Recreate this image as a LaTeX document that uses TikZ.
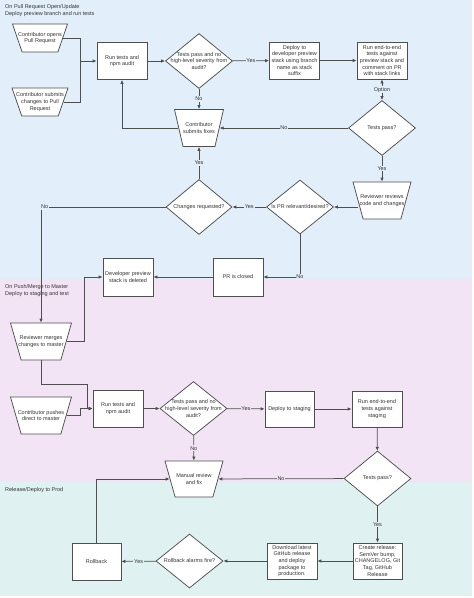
\documentclass[tikz,border=0pt]{standalone}
\usepackage{fontspec}
\setmainfont{Liberation Sans}
\usepackage{tikz}
\usetikzlibrary{arrows.meta, shapes.geometric}
\definecolor{bgblue}{HTML}{E2EFFA}
\definecolor{bgpink}{HTML}{F3E4F5}
\definecolor{bgteal}{HTML}{E0F1F1}
\definecolor{linegray}{HTML}{4F4F4F}
\definecolor{textgray}{HTML}{333333}
\newcommand{\flowfont}{\fontsize{5.5}{6.6}\selectfont}
\tikzstyle{process}=[rectangle, draw=linegray, fill=white, line width=0.75pt, inner sep=0pt, align=center, minimum width=50pt, minimum height=37pt]
\tikzstyle{decision}=[diamond, draw=linegray, fill=white, line width=0.75pt, inner sep=0pt, minimum width=67pt, minimum height=55pt]
\tikzstyle{manual}=[trapezium, trapezium angle=75, shape border rotate=180, trapezium stretches=true, draw=linegray, fill=white, line width=0.75pt, inner sep=1pt]
\tikzstyle{arrow}=[draw=linegray, line width=0.75pt, >={Latex[length=4pt, width=3.5pt]}]
\tikzstyle{labelblue}=[fill=bgblue, inner sep=0.8pt]
\tikzstyle{labelpink}=[fill=bgpink, inner sep=0.8pt]
\tikzstyle{labelteal}=[fill=bgteal, inner sep=0.8pt]
\tikzstyle{header}=[anchor=north west, align=left, inner sep=0pt, font=\fontsize{5.5}{7.3}\selectfont]

\begin{document}
\begin{tikzpicture}[x=1pt, y=-1pt, font=\flowfont, text=textgray, every label/.style={align=center}]
		   \useasboundingbox (0, 0) rectangle (474, 598);
		   \begin{scope}
			   \fill[bgblue] (0, 0) rectangle (472, 279);
			   \fill[bgpink] (0, 279) rectangle (472, 482);
			   \fill[bgteal] (0, 482) rectangle (472, 596);

			   \node (h1) at (5, 4.5)[header] {On Pull Request Open/Update\\Deploy preview branch and run tests};
			   \node (h2) at (5, 284.5)[header] {On Push/Merge to Master\\Deploy to staging and test};
			   \node (h3) at (5, 487)[header] {Release/Deploy to Prod};

			   \node (a1) at (40, 38)[manual, minimum width=55pt, minimum height=28pt, label=center:{Contributor opens\\Pull Request}] {};
			   \node (a2) at (40, 102)[manual, minimum width=56pt, minimum height=28pt, label=center:{Contributor submits\\changes to Pull\\Request}] {};
			   \node (a3) at (122, 61)[process] {Run tests and\\npm audit};
			   \node (a4) at (199, 61)[decision, label=center:{Tests pass and no\\high-level severity from\\audit?}] {};
			   \node (a5) at (294.5, 60.5)[process] {Deploy to\\developer preview\\stack using branch\\name as stack\\suffix};
			   \node (a6) at (382, 60.5)[process] {Run end-to-end\\tests against\\preview stack and\\comment on PR\\with stack links};
			   \node (a7) at (382, 128)[decision, label=center:{Tests pass?}] {};
			   \node (a8) at (199, 128)[manual, minimum width=49pt, minimum height=37pt, label=center:{Contributor\\submits fixes}] {};
			   \node (a9) at (382, 200.5)[manual, minimum width=58pt, minimum height=37pt, label=center:{Reviewer reviews\\code and changes}] {};
			   \node (a10) at (300, 207)[decision, minimum height=54pt, label=center:{Is PR relevant/desired?}] {};
			   \node (a11) at (199, 207)[decision, minimum width=66pt, label=center:{Changes requested?}] {};
			   \node (a12) at (238, 277)[process, minimum height=38pt] {PR is closed};
			   \node (a13) at (128, 277)[process, minimum height=38pt] {Developer preview\\stack is deleted};

			   \node (b1) at (41, 341.5)[manual, minimum width=61pt, minimum height=37pt, label=center:{Reviewer merges\\changes to master}] {};
			   \node (b2) at (41, 415.5)[manual, minimum width=61pt, minimum height=37pt, label=center:{Contributor pushes\\direct to master}] {};
			   \node (b3) at (118, 408.5)[process] {Run tests and\\npm audit};
			   \node (b4) at (193.5, 408.5)[decision, minimum height=54pt, label=center:{Tests pass and no\\high-level severity from\\audit?}] {};
			   \node (b5) at (289.5, 409)[process, minimum width=49pt, minimum height=36pt] {Deploy to staging};
			   \node (b6) at (377, 409)[process, minimum height=36pt] {Run end-to-end\\tests against\\staging};
			   \node (b7) at (377.5, 478.5)[decision, label=center:{Tests pass?}] {};
			   \node (b8) at (194, 479)[manual, minimum width=58pt, minimum height=36pt, label=center:{Manual review\\and fix}] {};

			   \node (c1) at (377.5, 561)[process, minimum width=49pt, minimum height=36pt] {Create release:\\SemVer bump,\\CHANGELOG, Git\\Tag, GitHub\\Release};
			   \node (c2) at (292, 561)[process, minimum height=36pt] {Download latest\\GitHub release\\and deploy\\package to\\production.};
			   \node (c3) at (189.5, 561)[decision, minimum height=54pt, label=center:{Rollback alarms fire?}] {};
			   \node (c4) at (96.5, 561.5)[process, minimum width=49pt] {Rollback};

			   \coordinate (j1) at (80, 61);
			   \coordinate (j2) at (84, 341.5);
			   \coordinate (j3) at (87, 384);
			   \coordinate (j4) at (80, 415.5);
		   \end{scope}
		   \begin{scope}[arrow]
			   \draw [-] (a1) -| (j1);
			   \draw [-] (a2) -| (j1);
			   \path [->] (j1) edge (a3);
			   \path [->] (a3) edge (a4);
			   \path [->] (a4) edge node[labelblue] {Yes} (a5);
			   \path [->] (a5) edge (a6);
			   \path [<->] (a6) edge node[labelblue] {Option} (a7);
			   \path [->] (a4) edge node[labelblue] {No} (a8);
			   \path [->] (a7) edge node[labelblue] {No} (a8);
			   \draw [->] (a8) -| (a3);
			   \path [->] (a7) edge node[labelblue] {Yes} (a9);
			   \draw [->] (a9.west |- a10) -- (a10);
			   \path [->] (a10) edge node[labelblue] {Yes} (a11);
			   \path [->] (a11) edge node[labelblue] {Yes} (a8);
			   \draw [->] (a11) -| node[labelblue, pos=0.485] {No} (b1);
			   \draw [->] (a10) |- node[labelblue, pos=0.5] {No} (a12);
			   \path [->] (a12) edge (a13);

			   \draw [->] (b1) -- (j2) |- (a13);
			   \draw [->] (b1) |- (j3) |- (b3);
			   \draw [->] (b2) -- (j4) |- (b3);
			   \path [->] (b3) edge (b4);
			   \path [->] (b4) edge node[labelpink] {Yes} (b5);
			   \path [->] (b5) edge (b6);
			   \path [->] (b6) edge (b7);
			   \path [->] (b4) edge node[labelpink] {No} (b8);
			   \path [->] (b7) edge node[labelpink] {No} (b8);

			   \path [->] (b7) edge node[labelteal] {Yes} (c1);
			   \path [->] (c1) edge (c2);
			   \path [->] (c2) edge (c3);
			   \path [->] (c3) edge node[labelteal] {Yes} (c4);
			   \draw [->] (c4) |- (b8);
		   \end{scope}
	   \end{tikzpicture}
\end{document}
